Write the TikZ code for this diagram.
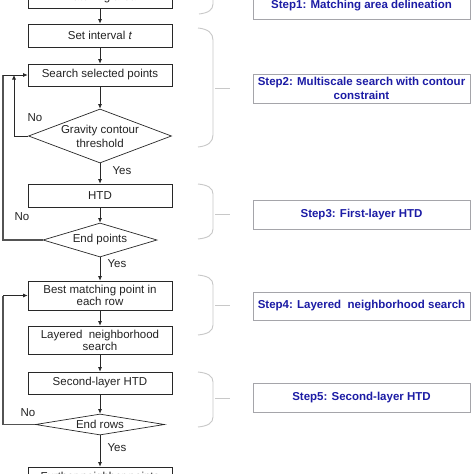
\documentclass[tikz,border=0pt]{standalone}
\usepackage{fontspec}
\setmainfont{Liberation Sans}
\usetikzlibrary{shapes.geometric,arrows.meta,shadows}
\definecolor{linec}{RGB}{40,40,40}
\definecolor{txtc}{RGB}{35,35,35}
\definecolor{bracec}{RGB}{200,200,200}
\definecolor{stepblue}{RGB}{28,28,165}
\definecolor{stepframe}{RGB}{165,165,170}
\begin{document}
\begin{tikzpicture}[x=1pt,y=-1pt,
  proc/.style={draw=linec,line width=0.7pt,rectangle,minimum width=144pt,inner sep=1pt,
    align=center,font=\fontsize{11.5}{12}\selectfont,text=txtc},
  dec/.style={draw=linec,line width=0.7pt,diamond,inner sep=0pt,aspect=1},
  dectext/.style={font=\fontsize{11.5}{14}\selectfont,text=txtc,align=center},
  lbl/.style={font=\fontsize{11.5}{12}\selectfont,text=txtc,inner sep=0pt},
  arr/.style={draw=linec,line width=0.7pt,-{Latex[length=4.5pt,width=4pt]}},
  outer/.style={draw=linec!80,line width=1.6pt},
  stepbox/.style={draw=stepframe,line width=0.6pt,fill=white,minimum width=217pt,
    align=center,font=\fontsize{11.5}{14}\selectfont\bfseries,text=stepblue,inner sep=1pt,
    drop shadow={shadow xshift=0.8pt,shadow yshift=-0.8pt,opacity=0.35}},
  brace/.style={draw=bracec,line width=0.9pt}]
\useasboundingbox (0,0) rectangle (474,474);
\fill[white] (0,0) rectangle (474,474);

% left column
\node[proc,minimum height=20pt] (top) at (100,-2) {Matching area};
\node[proc,minimum height=23pt] (set) at (100,35.5) {Set interval \textit{t}};
\node[proc,minimum height=22pt] (search) at (100,75) {Search selected points};
\node[dec,minimum width=143pt,minimum height=54pt,
  label={[dectext]center:Gravity contour\\threshold}] (grav) at (100,136) {};
\node[proc,minimum height=23pt] (htd) at (100,195.5) {HTD};
\node[dec,minimum width=114pt,minimum height=34pt,
  label={[dectext]center:End points}] (ep) at (100,240) {};
\node[proc,minimum height=29pt] (best) at (100,295.5) {Best matching point in\\each row};
\node[proc,minimum height=28pt] (lay) at (100,340) {Layered~~neighborhood\\search};
\node[proc,minimum height=22pt] (sec) at (100,383) {Second-layer HTD};
\node[dec,minimum width=129pt,minimum height=21pt,
  label={[dectext]center:End rows}] (er) at (100,424.5) {};
\node[proc,minimum height=22pt] (fin) at (100,478) {Further neighbor points};

\node[lbl] (no1) at (35,118) {No};
\node[lbl] (yes1) at (122,171) {Yes};
\node[lbl] (no2) at (22,217) {No};
\node[lbl] (yes2) at (117,264) {Yes};
\node[lbl] (no3) at (28,413) {No};
\node[lbl] (yes3) at (117,448) {Yes};

\coordinate (lx) at (3,0);
\coordinate (ix) at (14,0);

% main arrows
\draw[arr] (top) -- (set);
\draw[arr] (set) -- (search);
\draw[arr] (search) -- (grav);
\draw[arr] (grav) -- (htd);
\draw[arr] (htd) -- (ep);
\draw[arr] (ep) -- (best);
\draw[arr] (best) -- (lay);
\draw[arr] (lay) -- (sec);
\draw[arr] (sec) -- (er);
\draw[arr] (er) -- (fin);

% loops
\draw[outer] (ep.west) -- (ep.west -| lx) -- (search.west -| lx);
\draw[arr] (search.west -| lx) -- (search.west);
\draw[arr] (grav.west) -- (grav.west -| ix) -- (search.west -| ix);
\draw[outer] (er.west) -- (er.west -| lx) -- (best.west -| lx);
\draw[arr] (best.west -| lx) -- (best.west);

% braces
\draw[brace] (213,-40) -- (213,4) .. controls (213,10) and (208,13) .. (199,14);
\draw[brace] (198,28) .. controls (208,29) and (213,33) .. (213,40) -- (213,135)
  .. controls (213,142) and (208,146) .. (198,147);
\draw[brace] (215,88) -- (230,88);
\draw[brace] (198,184) .. controls (208,185) and (213,188) .. (213,194) -- (213,229)
  .. controls (213,235) and (208,238) .. (198,239);
\draw[brace] (215,214) -- (230,214);
\draw[brace] (198,275) .. controls (208,276) and (213,279) .. (213,285) -- (213,325)
  .. controls (213,331) and (208,334) .. (198,335);
\draw[brace] (215,305) -- (230,305);
\draw[brace] (198,372) .. controls (208,373) and (213,376) .. (213,382) -- (213,417)
  .. controls (213,423) and (208,426) .. (198,427);
\draw[brace] (215,398) -- (230,398);

% step boxes
\node[stepbox,minimum height=27pt] (s1) at (361.5,5.5) {Step1: Matching area delineation};
\node[stepbox,minimum height=29pt] (s2) at (361.5,88.5) {Step2: Multiscale search with contour\\constraint};
\node[stepbox,minimum height=29pt] (s3) at (361.5,214.5) {Step3: First-layer HTD};
\node[stepbox,minimum height=28pt] (s4) at (361.5,306) {Step4: Layered~~neighborhood search};
\node[stepbox,minimum height=29pt] (s5) at (361.5,397.5) {Step5: Second-layer HTD};
\end{tikzpicture}
\end{document}
